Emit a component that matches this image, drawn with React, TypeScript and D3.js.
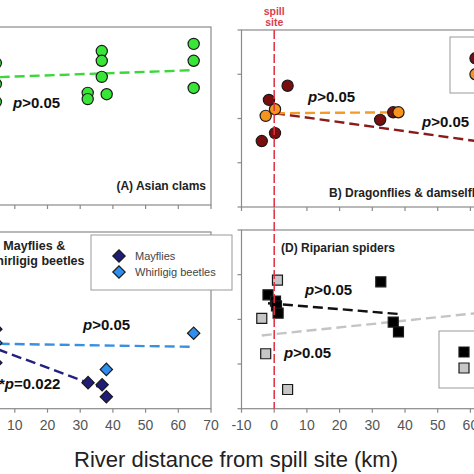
import React from "react";
import * as d3 from "d3";

const FONT = "Arial, 'Liberation Sans', Helvetica, sans-serif";

// ---------- data ----------
const xTicks = [-10, 0, 10, 20, 30, 40, 50, 60, 70];
const yTicks = [0, 1, 2, 3, 4];

// (A) Asian clams
const clamKm = [4.2, 4.2, 4.2, 32.3, 32.3, 36.6, 36.6, 36.6, 38.1, 64.7, 64.7, 64.7];
const clamVal = [3.19, 2.72, 2.32, 2.52, 2.38, 3.46, 3.24, 2.88, 2.49, 3.62, 3.24, 2.63];
const clamFitKm = [-3.8, 64.7];
const clamFitVal = [2.85, 3.03];

// (B) Dragonflies & damselflies
const dragonKm = [-3.8, -1.6, 0.25, 4.1, 32.4, 36.4];
const dragonVal = [1.49, 2.42, 1.67, 2.74, 1.97, 2.14];
const damselKm = [-2.6, 0.25, 38];
const damselVal = [2.06, 2.21, 2.14];
const dragonFitKm = [0.25, 64.7];
const dragonFitVal = [2.12, 1.46];
const damselFitKm = [0.25, 38];
const damselFitVal = [2.12, 2.14];

// (C) Mayflies & Whirligig beetles
const mayflyKm = [4.2, 4.2, 32.4, 36.7, 38];
const mayflyVal = [1.8, 1.04, 0.59, 0.54, 0.27];
const beetleKm = [4.2, 38, 64.7];
const beetleVal = [1.49, 0.89, 1.71];
const mayflyFitKm = [-3.8, 36.7];
const mayflyFitVal = [1.58, 0.47];
const beetleFitKm = [-3.8, 64.7];
const beetleFitVal = [1.48, 1.4];

// (D) Riparian spiders
const spiderAKm = [-1.9, 0.4, 0.7, 1.2, 32.6, 36.4, 38];
const spiderAVal = [2.55, 2.41, 2.3, 2.14, 2.84, 1.94, 1.72];
const spiderBKm = [1.0, -3.8, -2.6, 4.1];
const spiderBVal = [2.88, 2.02, 1.23, 0.43];
const spiderAFitKm = [-1.9, 38];
const spiderAFitVal = [2.36, 2.12];
const spiderBFitKm = [-3.8, 64.7];
const spiderBFitVal = [1.64, 2.16];

// ---------- layout ----------
const W = 474;
const H = 474;
const PA = { x0: -50.6, x1: 211, y0: 27, y1: 205 };
const PB = { x0: 241.5, x1: 503.1, y0: 30, y1: 207 };
const PC = { x0: -50.6, x1: 211, y0: 232, y1: 408.7 };
const PD = { x0: 241.5, x1: 503.1, y0: 230, y1: 408.7 };

type P = { x0: number; x1: number; y0: number; y1: number };

const scales = (p: P) => ({
  x: d3.scaleLinear().domain([-10, 70]).range([p.x0, p.x1]),
  y: d3.scaleLinear().domain([0, 4]).range([p.y1, p.y0]),
});

const FRAME = "#8a8a8a";

function Frame({ p, labels }: { p: P; labels: boolean }) {
  const { x, y } = scales(p);
  return (
    <g>
      <rect x={p.x0} y={p.y0} width={p.x1 - p.x0} height={p.y1 - p.y0} fill="white" stroke={FRAME} strokeWidth={1.2} />
      {xTicks.map((t) => (
        <line key={"x" + t} x1={x(t)} x2={x(t)} y1={p.y1} y2={p.y1 + 4} stroke={FRAME} strokeWidth={1.2} />
      ))}
      {yTicks.map((t) => (
        <line key={"y" + t} x1={p.x0 - 4} x2={p.x0} y1={y(t)} y2={y(t)} stroke={FRAME} strokeWidth={1.2} />
      ))}
      {labels &&
        xTicks.map((t) => (
          <text key={"l" + t} x={x(t)} y={p.y1 + 21} textAnchor="middle" fontSize={14} fill="#555" fontFamily={FONT}>
            {t}
          </text>
        ))}
    </g>
  );
}

function Fit({ p, km, val, color, width = 2.4 }: { p: P; km: number[]; val: number[]; color: string; width?: number }) {
  const { x, y } = scales(p);
  const line = d3
    .line<number>()
    .x((_, i) => x(km[i]))
    .y((d) => y(d));
  return <path d={line(val) || ""} fill="none" stroke={color} strokeWidth={width} strokeDasharray="10,5" />;
}

function Dots({
  p,
  km,
  val,
  type,
  size,
  fill,
  rotate = 0,
}: {
  p: P;
  km: number[];
  val: number[];
  type: d3.SymbolType;
  size: number;
  fill: string;
  rotate?: number;
}) {
  const { x, y } = scales(p);
  const d = d3.symbol().type(type).size(size)() || "";
  return (
    <g>
      {km.map((k, i) => (
        <path
          key={i}
          d={d}
          transform={`translate(${x(k)},${y(val[i])}) rotate(${rotate})`}
          fill={fill}
          stroke="#1a1a1a"
          strokeWidth={1.2}
        />
      ))}
    </g>
  );
}

function PText({ x, y, rel, star = false }: { x: number; y: number; rel: string; star?: boolean }) {
  return (
    <text x={x} y={y} fontSize={15} fontWeight="bold" fill="#111" fontFamily={FONT}>
      {star ? "*" : ""}
      <tspan fontStyle="italic">p</tspan>
      {rel}
    </text>
  );
}

const CIRC = Math.PI * 5.6 * 5.6;

export default function App() {
  const sb = scales(PB);
  const spillX = sb.x(0);
  const circle = d3.symbol().type(d3.symbolCircle).size(CIRC)() || "";
  const square = d3.symbol().type(d3.symbolSquare).size(100)() || "";
  const diamond = d3.symbol().type(d3.symbolSquare).size(76)() || "";
  return (
    <div>
      <style>{`body{margin:0;background:#fff}`}</style>
      <svg width={W} height={H} viewBox={`0 0 ${W} ${H}`} style={{ display: "block", overflow: "hidden" }}>
        <rect x={0} y={0} width={W} height={H} fill="white" />

        {/* Panel A */}
        <Frame p={PA} labels={false} />
        <Fit p={PA} km={clamFitKm} val={clamFitVal} color="#3ad83a" />
        <Dots p={PA} km={clamKm} val={clamVal} type={d3.symbolCircle} size={CIRC} fill="#38e638" />
        <PText x={13} y={108} rel=">0.05" />
        <text x={206} y={190} textAnchor="end" fontSize={12} fontWeight="bold" fill="#222" fontFamily={FONT}>
          (A) Asian clams
        </text>

        {/* Panel B */}
        <Frame p={PB} labels={false} />
        <Fit p={PB} km={dragonFitKm} val={dragonFitVal} color="#8b1a1a" />
        <Fit p={PB} km={damselFitKm} val={damselFitVal} color="#f39a2a" />
        <Dots p={PB} km={dragonKm} val={dragonVal} type={d3.symbolCircle} size={CIRC} fill="#7a0e0e" />
        <Dots p={PB} km={damselKm} val={damselVal} type={d3.symbolCircle} size={CIRC} fill="#f7941e" />
        <PText x={308} y={102} rel=">0.05" />
        <PText x={422} y={127} rel=">0.05" />
        <text x={329} y={197} fontSize={12} fontWeight="bold" fill="#222" fontFamily={FONT}>
          B) Dragonflies &amp; damselflies
        </text>
        <rect x={450} y={37} width={120} height={56} fill="white" stroke="#999" strokeWidth={1} />
        <path d={circle} transform="translate(475.5,58.3)" fill="#7a0e0e" stroke="#1a1a1a" strokeWidth={1.2} />
        <path d={circle} transform="translate(475.5,74.3)" fill="#f7941e" stroke="#1a1a1a" strokeWidth={1.2} />

        {/* Panel C */}
        <Frame p={PC} labels={true} />
        <Fit p={PC} km={beetleFitKm} val={beetleFitVal} color="#3a8fe0" />
        <Fit p={PC} km={mayflyFitKm} val={mayflyFitVal} color="#22227e" />
        <Dots p={PC} km={mayflyKm} val={mayflyVal} type={d3.symbolSquare} size={76} rotate={45} fill="#1e1e78" />
        <Dots p={PC} km={beetleKm} val={beetleVal} type={d3.symbolSquare} size={76} rotate={45} fill="#2f8ff0" />
        <PText x={83} y={330} rel=">0.05" />
        <PText x={-1} y={388.7} rel="=0.022" star />
        <text x={-17.5} y={250} fontSize={12.5} fontWeight="bold" fill="#222" fontFamily={FONT}>
          (C) Mayflies &amp;
        </text>
        <text x={-15.5} y={265} fontSize={12.5} fontWeight="bold" fill="#222" fontFamily={FONT}>
          Whirligig beetles
        </text>
        <rect x={91} y={235} width={141} height={55} fill="white" stroke="#999" strokeWidth={1} />
        <path d={diamond} transform="translate(119,256) rotate(45)" fill="#1e1e78" stroke="#1a1a1a" strokeWidth={1.2} />
        <path d={diamond} transform="translate(119,272) rotate(45)" fill="#2f8ff0" stroke="#1a1a1a" strokeWidth={1.2} />
        <text x={135} y={260} fontSize={11} fill="#444" fontFamily={FONT}>Mayflies</text>
        <text x={135} y={276} fontSize={11} fill="#444" fontFamily={FONT}>Whirligig beetles</text>

        {/* Panel D */}
        <Frame p={PD} labels={true} />
        <Fit p={PD} km={spiderBFitKm} val={spiderBFitVal} color="#c4c4c4" />
        <Fit p={PD} km={spiderAFitKm} val={spiderAFitVal} color="#111" />
        <Dots p={PD} km={spiderBKm} val={spiderBVal} type={d3.symbolSquare} size={100} fill="#c6c6c6" />
        <Dots p={PD} km={spiderAKm} val={spiderAVal} type={d3.symbolSquare} size={100} fill="#000" />
        <PText x={305} y={295} rel=">0.05" />
        <PText x={284} y={358} rel=">0.05" />
        <text x={281} y={252} fontSize={12} fontWeight="bold" fill="#222" fontFamily={FONT}>
          (D) Riparian spiders
        </text>
        <rect x={439} y={331} width={120} height={57} fill="white" stroke="#999" strokeWidth={1} />
        <path d={square} transform="translate(464,352)" fill="#000" stroke="#1a1a1a" strokeWidth={1.2} />
        <path d={square} transform="translate(464,368)" fill="#c6c6c6" stroke="#1a1a1a" strokeWidth={1.2} />

        {/* spill site */}
        <line x1={spillX} x2={spillX} y1={PB.y0} y2={PD.y1} stroke="#e03040" strokeWidth={1.5} strokeDasharray="9,3" />
        <text x={spillX} y={15} textAnchor="middle" fontSize={10.5} fontWeight="bold" fill="#d8404c" fontFamily={FONT}>
          spill
        </text>
        <text x={spillX} y={26} textAnchor="middle" fontSize={10.5} fontWeight="bold" fill="#d8404c" fontFamily={FONT}>
          site
        </text>

        {/* axis title */}
        <text x={236} y={467} textAnchor="middle" fontSize={22} fill="#222" fontFamily={FONT}>
          River distance from spill site (km)
        </text>
      </svg>
    </div>
  );
}
